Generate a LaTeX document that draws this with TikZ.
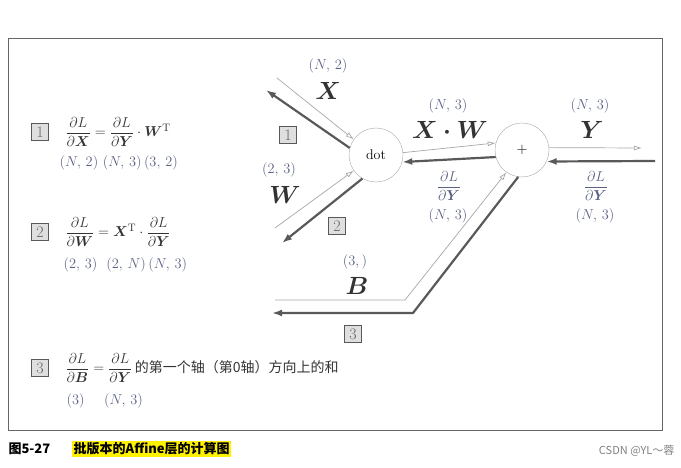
\documentclass[tikz,border=0pt]{standalone}
\usepackage{amsmath,bm}
\usepackage{fontspec}
\newfontfamily\cjk{Noto Sans CJK SC}
\usetikzlibrary{arrows.meta}
\definecolor{dimc}{HTML}{5A6283}
\definecolor{txc}{HTML}{333333}
\newcommand{\fs}[1]{\fontsize{#1}{#1}\selectfont}
\begin{document}
\begin{tikzpicture}[x=1pt,y=-1pt,
  every node/.style={font=\fs{14}},
  fwd/.style={draw=gray!70,line width=0.7pt,-{Latex[open,length=8pt,width=5pt]}},
  bwd/.style={draw=black!65,line width=2.2pt,-{Latex[length=10pt,width=7pt]}},
  circ/.style={circle,draw=gray!70,minimum size=54pt,inner sep=0pt,font=\fs{14}},
  numbox/.style={draw=black!65,fill=gray!25,line width=1pt,inner sep=1pt,minimum size=17pt,text=gray!80!black,font=\fs{16}},
  dim/.style={text=dimc,font=\fs{15}},
  big/.style={font=\fs{24},text=txc},
  frm/.style={anchor=west,text=txc,font=\fs{15.5}}]
\useasboundingbox (0,0) rectangle (681,468);
\draw[gray!80!black,line width=0.6pt] (8,38) rectangle (662,430);
% nodes
\node[circ] (dot) at (376,155) {dot};
\node[circ] (plus) at (522,150) {$+$};
\coordinate (xin) at (277,78);
\coordinate (xout) at (266,90);
\coordinate (win) at (275,228);
\coordinate (wout) at (282,243);
\coordinate (yin) at (642,148);
\coordinate (yout) at (655,161);
\coordinate (bin) at (275,300);
\coordinate (bk1) at (405,300);
\coordinate (bout) at (272,313);
\coordinate (bk2) at (413,313);
% connectors
\draw[fwd] (xin) -- (dot.145);
\draw[bwd] (dot.165) -- (xout);
\draw[fwd] (win) -- (dot.215);
\draw[bwd] (dot.240) -- (wout);
\draw[fwd] (dot.5) -- (plus.165);
\draw[bwd] (plus.195) -- (dot.345);
\draw[fwd] (plus.5) -- (yin);
\draw[bwd] (yout) -- (plus.335);
\draw[fwd] (bin) -- (bk1) -- (plus.235);
\draw[bwd] (plus.262) -- (bk2) -- (bout);
% labels right
\node[dim] at (328,66) {$(N,\,2)$};
\node[big] at (328,91) {$\bm{X}$};
\node[numbox] at (288,135) {1};
\node[dim] at (279,170) {$(2,\,3)$};
\node[big] at (285,195) {$\bm{W}$};
\node[numbox] at (337,226) {2};
\node[dim] at (448,106) {$(N,\,3)$};
\node[big] at (450,130) {$\bm{X}\bm{\cdot}\bm{W}$};
\node[dim] at (449,186) {$\dfrac{\partial L}{\partial\bm{Y}}$};
\node[dim] at (448,216) {$(N,\,3)$};
\node[dim] at (590,106) {$(N,\,3)$};
\node[big] at (592,130) {$\bm{Y}$};
\node[dim] at (596,186) {$\dfrac{\partial L}{\partial\bm{Y}}$};
\node[dim] at (595,216) {$(N,\,3)$};
\node[dim] at (355,262) {$(3,)$};
\node[big] at (357,286) {$\bm{B}$};
\node[numbox] at (353,334) {3};
% left formulas
\node[numbox] at (40,132) {1};
\node[frm] at (62,132) {$\dfrac{\partial L}{\partial\bm{X}}=\dfrac{\partial L}{\partial\bm{Y}}\cdot\bm{W}^{\mathrm{T}}$};
\node[dim,anchor=west] at (56,163) {$(N,\,2)$\ $(N,\,3)$\,$(3,\,2)$};
\node[numbox] at (40,232) {2};
\node[frm] at (62,232) {$\dfrac{\partial L}{\partial\bm{W}}=\bm{X}^{\mathrm{T}}\cdot\dfrac{\partial L}{\partial\bm{Y}}$};
\node[dim,anchor=west] at (60,265) {$(2,\,3)$\ \ $(2,\,N)$\,$(N,\,3)$};
\node[numbox] at (40,368) {3};
\node[frm] at (62,368) {$\dfrac{\partial L}{\partial\bm{B}}=\dfrac{\partial L}{\partial\bm{Y}}$\,{\cjk\fs{14}的第一个轴（第0轴）方向上的和}};
\node[dim,anchor=west] at (63,401) {$(3)$\quad\ $(N,\,3)$};
% caption
\node[anchor=west,font=\cjk\bfseries\fs{13}] (cap) at (5,449) {图5-27};
\node[anchor=west,fill=yellow,inner sep=1.5pt,font=\cjk\bfseries\fs{13}] at (72,449) {批版本的Affine层的计算图};
\node[anchor=east,text=gray,font=\cjk\fs{11}] at (678,451) {CSDN @YL～蓉};
\end{tikzpicture}
\end{document}
